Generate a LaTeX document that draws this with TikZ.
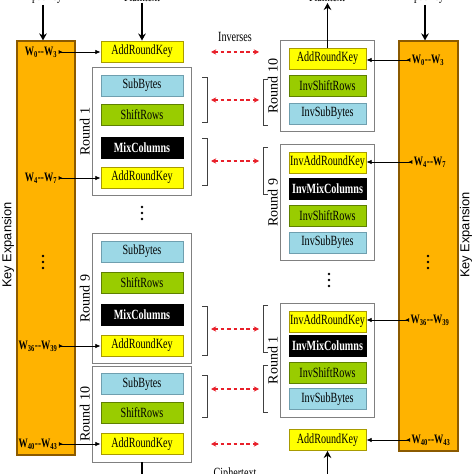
\documentclass[tikz,border=0pt]{standalone}
\usepackage{fontspec}
\setmainfont{Liberation Serif}
\newfontfamily\boxfont{Liberation Serif}[FakeStretch=0.72]
\newfontfamily\keyfont{Liberation Sans}
\usetikzlibrary{arrows.meta,positioning,fit}

\definecolor{keyorange}{HTML}{FFB300}
\definecolor{keyedge}{HTML}{8B5A00}
\definecolor{arkfill}{HTML}{FFFF00}
\definecolor{arkedge}{HTML}{A89B00}
\definecolor{subfill}{HTML}{9CD8E6}
\definecolor{subedge}{HTML}{6F9FAF}
\definecolor{shiftfill}{HTML}{99CC00}
\definecolor{shiftedge}{HTML}{5F8000}
\definecolor{invred}{HTML}{E8202A}

\tikzset{
  stage/.style={draw, line width=0.8pt, minimum width=24.6mm, minimum height=6.3mm, inner sep=0pt, font=\boxfont\fontsize{12}{12}\selectfont},
  rcol/.style={minimum width=23.1mm},
  ark/.style={stage, fill=arkfill, draw=arkedge},
  subb/.style={stage, fill=subfill, draw=subedge},
  shiftr/.style={stage, fill=shiftfill, draw=shiftedge},
  mixc/.style={stage, fill=black, draw=black, text=white, font=\boxfont\bfseries\fontsize{12}{12}\selectfont},
  roundbox/.style={draw=gray, line width=0.7pt, inner xsep=2.5mm, inner ysep=2.1mm},
  roundlbl/.style={rotate=90, anchor=south, inner sep=1.5pt, font=\fontsize{12}{12}\selectfont},
  keybar/.style={draw=keyedge, fill=keyorange, line width=1pt},
  wlbl/.style={inner sep=1pt, font=\boxfont\bfseries\fontsize{11}{11}\selectfont},
  keyarrow/.style={line width=0.7pt, {Latex[reversed,length=3.5pt,width=3.5pt]}-{Latex[length=4.5pt,width=4pt]}},
  flow/.style={line width=1.3pt, -{Stealth[length=6pt,width=6.5pt]}},
  inv/.style={invred, line width=0.9pt, dash pattern=on 3pt off 2.5pt, {Stealth[length=4.5pt,width=4.5pt]}-{Stealth[length=4.5pt,width=4.5pt]}},
  brk/.style={draw=black!75, line width=0.8pt},
  extlbl/.style={inner sep=1pt, font=\boxfont\fontsize{12}{12}\selectfont}
}
\newcommand{\vdotsat}[1]{\foreach \d in {-6,0,6} \fill ($(#1)+(0,\d)$) circle (1.3);}
\usetikzlibrary{calc}

\begin{document}
\begin{tikzpicture}[x=0.3mm, y=-0.3mm]
\useasboundingbox (0,0) rectangle (474,474);

% key expansion bars
\node[keybar, minimum width=17.4mm, minimum height=124.2mm] (kl) at (46,248) {};
\node[keybar, minimum width=17.7mm, minimum height=123mm] (kr) at (428.5,246) {};
\node[rotate=90, font=\keyfont\fontsize{11}{11}\selectfont] (kel) at (8,245) {Key Expansion};
\node[rotate=90, font=\keyfont\fontsize{11}{11}\selectfont] (ker) at (466,235) {Key Expansion};
\coordinate (kdl) at (43,262);
\coordinate (kdr) at (428,262);
\vdotsat{kdl}
\vdotsat{kdr}

% cipher
\node[ark] (ark0) at (142,51.5) {AddRoundKey};
\node[subb] (sb1) at (142,85.5) {SubBytes};
\node[shiftr] (sr1) at (142,114.5) {ShiftRows};
\node[mixc] (mc1) at (142,147.5) {MixColumns};
\node[ark] (ark1) at (142,177.5) {AddRoundKey};
\node[roundbox, fit=(sb1)(ark1)] (r1) {};
\node[roundlbl] (lr1) at (r1.west) {Round 1};
\coordinate (cdots) at (142,213);
\vdotsat{cdots}
\node[subb] (sb9) at (142,251.5) {SubBytes};
\node[shiftr] (sr9) at (142,282.5) {ShiftRows};
\node[mixc] (mc9) at (142,315) {MixColumns};
\node[ark] (ark9) at (142,345.5) {AddRoundKey};
\node[roundbox, fit=(sb9)(ark9)] (r9) {};
\node[roundlbl] (lr9) at (r9.west) {Round 9};
\node[subb] (sb10) at (142,384) {SubBytes};
\node[shiftr] (sr10) at (142,412.5) {ShiftRows};
\node[ark] (ark10) at (142,444) {AddRoundKey};
\node[roundbox, fit=(sb10)(ark10)] (r10) {};
\node[roundlbl] (lr10) at (r10.west) {Round 10};

% inverse cipher
\node[ark, rcol] (iark0) at (327.5,58.5) {AddRoundKey};
\node[shiftr, rcol] (isr10) at (327.5,86) {InvShiftRows};
\node[subb, rcol] (isb10) at (327.5,113.5) {InvSubBytes};
\node[roundbox, fit=(iark0)(isb10)] (ir10) {};
\node[roundlbl] (ilr10) at (ir10.west) {Round 10};
\node[ark, rcol] (iark9) at (327.5,162.5) {InvAddRoundKey};
\node[mixc, rcol] (imc9) at (327.5,188.5) {InvMixColumns};
\node[shiftr, rcol] (isr9) at (327.5,215.5) {InvShiftRows};
\node[subb, rcol] (isb9) at (327.5,242.5) {InvSubBytes};
\node[roundbox, fit=(iark9)(isb9)] (ir9) {};
\node[roundlbl] (ilr9) at (ir9.west) {Round 9};
\coordinate (idots) at (329,280);
\vdotsat{idots}
\node[ark, rcol] (iark1) at (327.5,321.5) {InvAddRoundKey};
\node[mixc, rcol] (imc1) at (327.5,345.5) {InvMixColumns};
\node[shiftr, rcol] (isr1) at (327.5,372.5) {InvShiftRows};
\node[subb, rcol] (isb1) at (327.5,399) {InvSubBytes};
\node[roundbox, fit=(iark1)(isb1)] (ir1) {};
\node[roundlbl] (ilr1) at (ir1.west) {Round 1};
\node[ark, rcol] (iarkf) at (327.5,440) {AddRoundKey};

% round keys
\node[wlbl] (w0) at (41,52) {W\textsubscript{0}--W\textsubscript{3}};
\node[wlbl] (w4) at (41,178) {W\textsubscript{4}--W\textsubscript{7}};
\node[wlbl] (w36) at (38,346) {W\textsubscript{36}--W\textsubscript{39}};
\node[wlbl] (w40) at (38,444) {W\textsubscript{40}--W\textsubscript{43}};
\node[wlbl] (iw0) at (428,60) {W\textsubscript{0}--W\textsubscript{3}};
\node[wlbl] (iw4) at (430,162) {W\textsubscript{4}--W\textsubscript{7}};
\node[wlbl] (iw36) at (430,320) {W\textsubscript{36}--W\textsubscript{39}};
\node[wlbl] (iw40) at (431,440) {W\textsubscript{40}--W\textsubscript{43}};
\draw[keyarrow] (w0.east) -- (w0.east -| ark0.west);
\draw[keyarrow] (w4.east) -- (w4.east -| ark1.west);
\draw[keyarrow] (w36.east) -- (w36.east -| ark9.west);
\draw[keyarrow] (w40.east) -- (w40.east -| ark10.west);
\draw[keyarrow] (iw0.west) -- (iw0.west -| iark0.east);
\draw[keyarrow] (iw4.west) -- (iw4.west -| iark9.east);
\draw[keyarrow] (iw36.west) -- (iw36.west -| iark1.east);
\draw[keyarrow] (iw40.west) -- (iw40.west -| iarkf.east);

% inputs and outputs
\node[extlbl, anchor=south] (kin) at (43,5) {Input key};
\node[extlbl, anchor=south] (pin) at (142,3) {Plaintext};
\node[extlbl, anchor=south] (pout) at (327,3) {Plaintext};
\node[extlbl, anchor=south] (ikin) at (425,5) {Input key};
\node[extlbl, anchor=north] (cipher) at (235,466) {Ciphertext};
\coordinate (cout) at (142,495);
\coordinate (cin) at (327.5,495);
\draw[flow] (kin.south) -- (kin.south |- kl.north);
\draw[flow] (pin.south) -- (ark0.north);
\draw[flow] (iark0.north) -- (pout.south -| iark0.north);
\draw[flow] (ikin.south) -- (ikin.south |- kr.north);
\draw[flow] (r10.south) -- (cout);
\draw[flow] (cin) -- (iarkf.south);

% inverses
\node[extlbl] (invs) at (235,37) {Inverses};
\foreach \y [count=\i] in {52,100,161,329,389,444} {
  \coordinate (il\i) at (211,\y);
  \coordinate (ir\i) at (259,\y);
  \draw[inv] (il\i) -- (ir\i);
}
\foreach \t/\b in {77/122,138/185,306/355,375/417}
  \draw[brk] (202,\t) -- (207,\t) -- (207,\b) -- (202,\b);
\foreach \t/\b in {79/125,147/194,305/352,365/412}
  \draw[brk] (268,\t) -- (263,\t) -- (263,\b) -- (268,\b);
\end{tikzpicture}
\end{document}
